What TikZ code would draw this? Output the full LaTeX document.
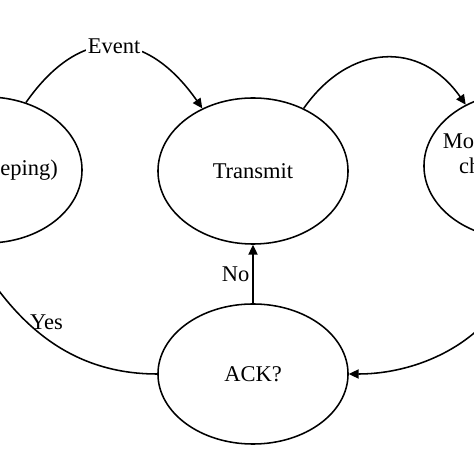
\documentclass[tikz,border=0pt]{standalone}
\usepackage{fontspec}
\setmainfont{Liberation Serif}
\usetikzlibrary{shapes.geometric,arrows.meta}

\begin{document}
\begin{tikzpicture}[x=0.025cm, y=0.025cm,
        state/.style={ellipse, draw, line width=1.1pt, minimum width=4.75cm, minimum height=3.65cm, inner sep=0pt},
        edge/.style={line width=1.1pt, -{Triangle[length=7pt,width=6.5pt]}},
        every node/.append style={font=\fontsize{16}{18}\selectfont}]
                \useasboundingbox (0,0) rectangle (474,474);
                \clip (0,0) rectangle (474,474);

                % Nodes
                \node[state] (sleep) at (-13,304) {};
                \node (sleeptext) at (11,304) {(Sleeping)};
                \node[state] (trans) at (253,303) {Transmit};
                \node[state] (mon) at (519,308) {};
                \node[align=center] (montext) at (494,320) {Monitoring\\channel};
                \node[state, minimum height=3.5cm] (ack) at (253,100) {ACK?};

                % Edges
                \draw[edge] (sleep.60) to[out=55,in=125,looseness=1.4] node[fill=white, inner sep=1pt] (event) {Event} (trans.129);
                \draw[edge] (trans.51) to[out=55,in=125,looseness=1.25] (mon.131);
                \draw[edge] (mon.south) to[out=-90,in=0] (ack.east);
                \draw[edge] (ack) -- node[left, inner sep=2pt] (no) {No} (trans);
                \draw[edge] (ack.west) to[out=180,in=-60] node[pos=0.6, anchor=west, inner sep=1pt] (yes) {Yes} (sleep.-105);
            \end{tikzpicture}
\end{document}
